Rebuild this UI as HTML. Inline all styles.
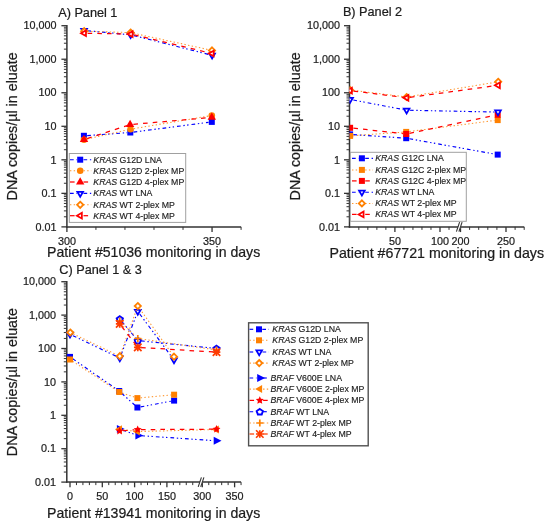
<!DOCTYPE html>
<html><head><meta charset="utf-8"><style>
html,body{margin:0;padding:0;background:#fff;}
svg{display:block;}
</style></head><body>
<svg width="550" height="526" viewBox="0 0 550 526">
<rect width="550" height="526" fill="#fff"/>
<g font-family="Liberation Sans, Arial, sans-serif">
<text x="58.20" y="16.50" font-size="12.7" text-anchor="start" fill="#1c1c1c" stroke="#1c1c1c" stroke-width="0.22">A) Panel 1</text>
<text x="0" y="0" font-size="14.3" text-anchor="middle" fill="#1c1c1c" stroke="#1c1c1c" stroke-width="0.22" transform="translate(17.3,126.4) rotate(-90)">DNA copies/µl in eluate</text>
<line x1="66.9" y1="24.95" x2="66.9" y2="227.63" stroke="#333333" stroke-width="1.5"/>
<line x1="61.400000000000006" y1="25.70" x2="66.9" y2="25.70" stroke="#333333" stroke-width="1.3"/>
<text x="56.50" y="29.40" font-size="10.8" text-anchor="end" fill="#1c1c1c" stroke="#1c1c1c" stroke-width="0.22">10,000</text>
<line x1="63.900000000000006" y1="49.14" x2="66.9" y2="49.14" stroke="#333333" stroke-width="1"/>
<line x1="63.900000000000006" y1="43.23" x2="66.9" y2="43.23" stroke="#333333" stroke-width="1"/>
<line x1="63.900000000000006" y1="39.04" x2="66.9" y2="39.04" stroke="#333333" stroke-width="1"/>
<line x1="63.900000000000006" y1="35.79" x2="66.9" y2="35.79" stroke="#333333" stroke-width="1"/>
<line x1="63.900000000000006" y1="33.14" x2="66.9" y2="33.14" stroke="#333333" stroke-width="1"/>
<line x1="63.900000000000006" y1="30.89" x2="66.9" y2="30.89" stroke="#333333" stroke-width="1"/>
<line x1="63.900000000000006" y1="28.95" x2="66.9" y2="28.95" stroke="#333333" stroke-width="1"/>
<line x1="63.900000000000006" y1="27.23" x2="66.9" y2="27.23" stroke="#333333" stroke-width="1"/>
<line x1="61.400000000000006" y1="59.23" x2="66.9" y2="59.23" stroke="#333333" stroke-width="1.3"/>
<text x="56.50" y="62.93" font-size="10.8" text-anchor="end" fill="#1c1c1c" stroke="#1c1c1c" stroke-width="0.22">1,000</text>
<line x1="63.900000000000006" y1="82.67" x2="66.9" y2="82.67" stroke="#333333" stroke-width="1"/>
<line x1="63.900000000000006" y1="76.76" x2="66.9" y2="76.76" stroke="#333333" stroke-width="1"/>
<line x1="63.900000000000006" y1="72.57" x2="66.9" y2="72.57" stroke="#333333" stroke-width="1"/>
<line x1="63.900000000000006" y1="69.32" x2="66.9" y2="69.32" stroke="#333333" stroke-width="1"/>
<line x1="63.900000000000006" y1="66.67" x2="66.9" y2="66.67" stroke="#333333" stroke-width="1"/>
<line x1="63.900000000000006" y1="64.42" x2="66.9" y2="64.42" stroke="#333333" stroke-width="1"/>
<line x1="63.900000000000006" y1="62.48" x2="66.9" y2="62.48" stroke="#333333" stroke-width="1"/>
<line x1="63.900000000000006" y1="60.76" x2="66.9" y2="60.76" stroke="#333333" stroke-width="1"/>
<line x1="61.400000000000006" y1="92.76" x2="66.9" y2="92.76" stroke="#333333" stroke-width="1.3"/>
<text x="56.50" y="96.46" font-size="10.8" text-anchor="end" fill="#1c1c1c" stroke="#1c1c1c" stroke-width="0.22">100</text>
<line x1="63.900000000000006" y1="116.20" x2="66.9" y2="116.20" stroke="#333333" stroke-width="1"/>
<line x1="63.900000000000006" y1="110.29" x2="66.9" y2="110.29" stroke="#333333" stroke-width="1"/>
<line x1="63.900000000000006" y1="106.10" x2="66.9" y2="106.10" stroke="#333333" stroke-width="1"/>
<line x1="63.900000000000006" y1="102.85" x2="66.9" y2="102.85" stroke="#333333" stroke-width="1"/>
<line x1="63.900000000000006" y1="100.20" x2="66.9" y2="100.20" stroke="#333333" stroke-width="1"/>
<line x1="63.900000000000006" y1="97.95" x2="66.9" y2="97.95" stroke="#333333" stroke-width="1"/>
<line x1="63.900000000000006" y1="96.01" x2="66.9" y2="96.01" stroke="#333333" stroke-width="1"/>
<line x1="63.900000000000006" y1="94.29" x2="66.9" y2="94.29" stroke="#333333" stroke-width="1"/>
<line x1="61.400000000000006" y1="126.29" x2="66.9" y2="126.29" stroke="#333333" stroke-width="1.3"/>
<text x="56.50" y="129.99" font-size="10.8" text-anchor="end" fill="#1c1c1c" stroke="#1c1c1c" stroke-width="0.22">10</text>
<line x1="63.900000000000006" y1="149.73" x2="66.9" y2="149.73" stroke="#333333" stroke-width="1"/>
<line x1="63.900000000000006" y1="143.82" x2="66.9" y2="143.82" stroke="#333333" stroke-width="1"/>
<line x1="63.900000000000006" y1="139.63" x2="66.9" y2="139.63" stroke="#333333" stroke-width="1"/>
<line x1="63.900000000000006" y1="136.38" x2="66.9" y2="136.38" stroke="#333333" stroke-width="1"/>
<line x1="63.900000000000006" y1="133.73" x2="66.9" y2="133.73" stroke="#333333" stroke-width="1"/>
<line x1="63.900000000000006" y1="131.48" x2="66.9" y2="131.48" stroke="#333333" stroke-width="1"/>
<line x1="63.900000000000006" y1="129.54" x2="66.9" y2="129.54" stroke="#333333" stroke-width="1"/>
<line x1="63.900000000000006" y1="127.82" x2="66.9" y2="127.82" stroke="#333333" stroke-width="1"/>
<line x1="61.400000000000006" y1="159.82" x2="66.9" y2="159.82" stroke="#333333" stroke-width="1.3"/>
<text x="56.50" y="163.52" font-size="10.8" text-anchor="end" fill="#1c1c1c" stroke="#1c1c1c" stroke-width="0.22">1</text>
<line x1="63.900000000000006" y1="183.26" x2="66.9" y2="183.26" stroke="#333333" stroke-width="1"/>
<line x1="63.900000000000006" y1="177.35" x2="66.9" y2="177.35" stroke="#333333" stroke-width="1"/>
<line x1="63.900000000000006" y1="173.16" x2="66.9" y2="173.16" stroke="#333333" stroke-width="1"/>
<line x1="63.900000000000006" y1="169.91" x2="66.9" y2="169.91" stroke="#333333" stroke-width="1"/>
<line x1="63.900000000000006" y1="167.26" x2="66.9" y2="167.26" stroke="#333333" stroke-width="1"/>
<line x1="63.900000000000006" y1="165.01" x2="66.9" y2="165.01" stroke="#333333" stroke-width="1"/>
<line x1="63.900000000000006" y1="163.07" x2="66.9" y2="163.07" stroke="#333333" stroke-width="1"/>
<line x1="63.900000000000006" y1="161.35" x2="66.9" y2="161.35" stroke="#333333" stroke-width="1"/>
<line x1="61.400000000000006" y1="193.35" x2="66.9" y2="193.35" stroke="#333333" stroke-width="1.3"/>
<text x="56.50" y="197.05" font-size="10.8" text-anchor="end" fill="#1c1c1c" stroke="#1c1c1c" stroke-width="0.22">0.1</text>
<line x1="63.900000000000006" y1="216.79" x2="66.9" y2="216.79" stroke="#333333" stroke-width="1"/>
<line x1="63.900000000000006" y1="210.88" x2="66.9" y2="210.88" stroke="#333333" stroke-width="1"/>
<line x1="63.900000000000006" y1="206.69" x2="66.9" y2="206.69" stroke="#333333" stroke-width="1"/>
<line x1="63.900000000000006" y1="203.44" x2="66.9" y2="203.44" stroke="#333333" stroke-width="1"/>
<line x1="63.900000000000006" y1="200.79" x2="66.9" y2="200.79" stroke="#333333" stroke-width="1"/>
<line x1="63.900000000000006" y1="198.54" x2="66.9" y2="198.54" stroke="#333333" stroke-width="1"/>
<line x1="63.900000000000006" y1="196.60" x2="66.9" y2="196.60" stroke="#333333" stroke-width="1"/>
<line x1="63.900000000000006" y1="194.88" x2="66.9" y2="194.88" stroke="#333333" stroke-width="1"/>
<line x1="61.400000000000006" y1="226.88" x2="66.9" y2="226.88" stroke="#333333" stroke-width="1.3"/>
<text x="56.50" y="230.58" font-size="10.8" text-anchor="end" fill="#1c1c1c" stroke="#1c1c1c" stroke-width="0.22">0.01</text>
<line x1="66.15" y1="226.88" x2="241.08" y2="226.88" stroke="#333333" stroke-width="1.5"/>
<line x1="66.90" y1="226.88" x2="66.90" y2="232.07999999999998" stroke="#333333" stroke-width="1.3"/>
<line x1="212.05" y1="226.88" x2="212.05" y2="232.07999999999998" stroke="#333333" stroke-width="1.3"/>
<line x1="95.93" y1="226.88" x2="95.93" y2="229.88" stroke="#333333" stroke-width="1"/>
<line x1="124.96" y1="226.88" x2="124.96" y2="229.88" stroke="#333333" stroke-width="1"/>
<line x1="153.99" y1="226.88" x2="153.99" y2="229.88" stroke="#333333" stroke-width="1"/>
<line x1="183.02" y1="226.88" x2="183.02" y2="229.88" stroke="#333333" stroke-width="1"/>
<line x1="241.08" y1="226.88" x2="241.08" y2="229.88" stroke="#333333" stroke-width="1"/>
<text x="66.90" y="245.00" font-size="10.8" text-anchor="middle" fill="#1c1c1c" stroke="#1c1c1c" stroke-width="0.22">300</text>
<text x="212.05" y="245.00" font-size="10.8" text-anchor="middle" fill="#1c1c1c" stroke="#1c1c1c" stroke-width="0.22">350</text>
<text x="47.10" y="257.40" font-size="14.1" text-anchor="start" fill="#1c1c1c" stroke="#1c1c1c" stroke-width="0.22">Patient #51036 monitoring in days</text>
<path d="M87.19,135.57 L127.01,132.73" fill="none" stroke="#0000ff" stroke-width="1.15" stroke-dasharray="3.7,2.7,1.4,2.4,1.4,3.0"/>
<path d="M133.57,132.07 L208.53,122.33" fill="none" stroke="#0000ff" stroke-width="1.15" stroke-dasharray="3.7,2.7,1.4,2.4,1.4,3.0"/>
<rect x="80.90" y="132.80" width="6.00" height="6.00" fill="#0000ff"/>
<rect x="127.30" y="129.50" width="6.00" height="6.00" fill="#0000ff"/>
<rect x="208.80" y="118.90" width="6.00" height="6.00" fill="#0000ff"/>
<path d="M87.22,138.97 L127.28,129.93" fill="none" stroke="#ff962e" stroke-width="1.05" stroke-dasharray="1.4,2.3"/>
<path d="M133.75,128.65 L208.55,116.05" fill="none" stroke="#ff962e" stroke-width="1.05" stroke-dasharray="1.4,2.3"/>
<circle cx="84.00" cy="139.70" r="3.30" fill="#ff8000"/>
<circle cx="130.50" cy="129.20" r="3.30" fill="#ff8000"/>
<circle cx="211.80" cy="115.50" r="3.30" fill="#ff8000"/>
<path d="M87.14,138.58 L126.96,125.62" fill="none" stroke="#ff0000" stroke-width="1.25" stroke-dasharray="4.6,5.1"/>
<path d="M133.39,124.31 L208.51,117.69" fill="none" stroke="#ff0000" stroke-width="1.25" stroke-dasharray="4.6,5.1"/>
<polygon points="84.00,134.80 88.20,142.00 79.80,142.00" fill="#ff0000"/>
<polygon points="130.10,119.80 134.30,127.00 125.90,127.00" fill="#ff0000"/>
<polygon points="211.80,112.60 216.00,119.80 207.60,119.80" fill="#ff0000"/>
<path d="M87.39,30.71 L127.31,34.49" fill="none" stroke="#0000ff" stroke-width="1.15" stroke-dasharray="3.7,2.7,1.4,2.4,1.4,3.0"/>
<path d="M133.80,35.60 L208.90,54.50" fill="none" stroke="#0000ff" stroke-width="1.15" stroke-dasharray="3.7,2.7,1.4,2.4,1.4,3.0"/>
<polygon points="81.25,28.77 86.95,28.77 84.10,33.67" fill="#fff" stroke="#0000ff" stroke-width="1.75" stroke-linejoin="miter"/>
<polygon points="127.75,33.17 133.45,33.17 130.60,38.07" fill="#fff" stroke="#0000ff" stroke-width="1.75" stroke-linejoin="miter"/>
<polygon points="209.25,53.67 214.95,53.67 212.10,58.57" fill="#fff" stroke="#0000ff" stroke-width="1.75" stroke-linejoin="miter"/>
<path d="M87.50,31.30 L127.30,32.50" fill="none" stroke="#ff962e" stroke-width="1.05" stroke-dasharray="1.4,2.3"/>
<path d="M133.82,33.30 L208.78,49.70" fill="none" stroke="#ff962e" stroke-width="1.05" stroke-dasharray="1.4,2.3"/>
<polygon points="84.20,28.10 87.30,31.20 84.20,34.30 81.10,31.20" fill="#fff" stroke="#ff8000" stroke-width="1.8" stroke-linejoin="miter"/>
<polygon points="130.60,29.50 133.70,32.60 130.60,35.70 127.50,32.60" fill="#fff" stroke="#ff8000" stroke-width="1.8" stroke-linejoin="miter"/>
<polygon points="212.00,47.30 215.10,50.40 212.00,53.50 208.90,50.40" fill="#fff" stroke="#ff8000" stroke-width="1.8" stroke-linejoin="miter"/>
<path d="M87.60,33.26 L127.60,34.04" fill="none" stroke="#ff0000" stroke-width="1.25" stroke-dasharray="4.6,5.1"/>
<path d="M134.11,34.87 L208.79,52.73" fill="none" stroke="#ff0000" stroke-width="1.25" stroke-dasharray="4.6,5.1"/>
<polygon points="80.97,33.20 85.97,30.35 85.97,36.05" fill="#fff" stroke="#ff0000" stroke-width="1.75" stroke-linejoin="miter"/>
<polygon points="127.57,34.10 132.57,31.25 132.57,36.95" fill="#fff" stroke="#ff0000" stroke-width="1.75" stroke-linejoin="miter"/>
<polygon points="208.67,53.50 213.67,50.65 213.67,56.35" fill="#fff" stroke="#ff0000" stroke-width="1.75" stroke-linejoin="miter"/>
<rect x="69.3" y="153.5" width="116.39999999999999" height="68.9" fill="#fff" stroke="#a0a0a0" stroke-width="1"/>
<path d="M70.00,159.70 L76.90,159.70" fill="none" stroke="#0000ff" stroke-width="1.15" stroke-dasharray="3.7,2.7,1.4,2.4,1.4,3.0"/>
<path d="M83.50,159.70 L91.20,159.70" fill="none" stroke="#0000ff" stroke-width="1.15" stroke-dasharray="3.7,2.7,1.4,2.4,1.4,3.0"/>
<rect x="77.20" y="156.70" width="6.00" height="6.00" fill="#0000ff"/>
<text x="93.30" y="162.70" font-size="8.75" fill="#1c1c1c" stroke="#1c1c1c" stroke-width="0.15"><tspan font-style="italic">KRAS</tspan> G12D LNA</text>
<path d="M70.00,170.80 L76.90,170.80" fill="none" stroke="#ff962e" stroke-width="1.05" stroke-dasharray="1.4,2.3"/>
<path d="M83.50,170.80 L91.20,170.80" fill="none" stroke="#ff962e" stroke-width="1.05" stroke-dasharray="1.4,2.3"/>
<circle cx="80.20" cy="170.80" r="3.30" fill="#ff8000"/>
<text x="93.30" y="173.80" font-size="8.75" fill="#1c1c1c" stroke="#1c1c1c" stroke-width="0.15"><tspan font-style="italic">KRAS</tspan> G12D 2-plex MP</text>
<path d="M70.00,182.00 L76.90,182.00" fill="none" stroke="#ff0000" stroke-width="1.25" stroke-dasharray="4.6,5.1"/>
<path d="M83.50,182.00 L91.20,182.00" fill="none" stroke="#ff0000" stroke-width="1.25" stroke-dasharray="4.6,5.1"/>
<polygon points="80.20,177.20 84.40,184.40 76.00,184.40" fill="#ff0000"/>
<text x="93.30" y="185.00" font-size="8.75" fill="#1c1c1c" stroke="#1c1c1c" stroke-width="0.15"><tspan font-style="italic">KRAS</tspan> G12D 4-plex MP</text>
<path d="M70.00,193.40 L76.90,193.40" fill="none" stroke="#0000ff" stroke-width="1.15" stroke-dasharray="3.7,2.7,1.4,2.4,1.4,3.0"/>
<path d="M83.50,193.40 L91.20,193.40" fill="none" stroke="#0000ff" stroke-width="1.15" stroke-dasharray="3.7,2.7,1.4,2.4,1.4,3.0"/>
<polygon points="77.35,191.77 83.05,191.77 80.20,196.67" fill="#fff" stroke="#0000ff" stroke-width="1.75" stroke-linejoin="miter"/>
<text x="93.30" y="196.40" font-size="8.75" fill="#1c1c1c" stroke="#1c1c1c" stroke-width="0.15"><tspan font-style="italic">KRAS</tspan> WT LNA</text>
<path d="M70.00,204.80 L76.90,204.80" fill="none" stroke="#ff962e" stroke-width="1.05" stroke-dasharray="1.4,2.3"/>
<path d="M83.50,204.80 L91.20,204.80" fill="none" stroke="#ff962e" stroke-width="1.05" stroke-dasharray="1.4,2.3"/>
<polygon points="80.20,201.70 83.30,204.80 80.20,207.90 77.10,204.80" fill="#fff" stroke="#ff8000" stroke-width="1.8" stroke-linejoin="miter"/>
<text x="93.30" y="207.80" font-size="8.75" fill="#1c1c1c" stroke="#1c1c1c" stroke-width="0.15"><tspan font-style="italic">KRAS</tspan> WT 2-plex MP</text>
<path d="M70.00,215.70 L76.90,215.70" fill="none" stroke="#ff0000" stroke-width="1.25" stroke-dasharray="4.6,5.1"/>
<path d="M83.50,215.70 L91.20,215.70" fill="none" stroke="#ff0000" stroke-width="1.25" stroke-dasharray="4.6,5.1"/>
<polygon points="76.87,215.70 81.87,212.85 81.87,218.55" fill="#fff" stroke="#ff0000" stroke-width="1.75" stroke-linejoin="miter"/>
<text x="93.30" y="218.70" font-size="8.75" fill="#1c1c1c" stroke="#1c1c1c" stroke-width="0.15"><tspan font-style="italic">KRAS</tspan> WT 4-plex MP</text>
</g>
<g font-family="Liberation Sans, Arial, sans-serif">
<text x="342.90" y="15.80" font-size="12.7" text-anchor="start" fill="#1c1c1c" stroke="#1c1c1c" stroke-width="0.22">B) Panel 2</text>
<text x="0" y="0" font-size="14.3" text-anchor="middle" fill="#1c1c1c" stroke="#1c1c1c" stroke-width="0.22" transform="translate(299.9,126.4) rotate(-90)">DNA copies/µl in eluate</text>
<line x1="349.5" y1="24.95" x2="349.5" y2="227.63" stroke="#333333" stroke-width="1.5"/>
<line x1="344.0" y1="25.70" x2="349.5" y2="25.70" stroke="#333333" stroke-width="1.3"/>
<text x="340.00" y="29.40" font-size="10.8" text-anchor="end" fill="#1c1c1c" stroke="#1c1c1c" stroke-width="0.22">10,000</text>
<line x1="346.5" y1="49.14" x2="349.5" y2="49.14" stroke="#333333" stroke-width="1"/>
<line x1="346.5" y1="43.23" x2="349.5" y2="43.23" stroke="#333333" stroke-width="1"/>
<line x1="346.5" y1="39.04" x2="349.5" y2="39.04" stroke="#333333" stroke-width="1"/>
<line x1="346.5" y1="35.79" x2="349.5" y2="35.79" stroke="#333333" stroke-width="1"/>
<line x1="346.5" y1="33.14" x2="349.5" y2="33.14" stroke="#333333" stroke-width="1"/>
<line x1="346.5" y1="30.89" x2="349.5" y2="30.89" stroke="#333333" stroke-width="1"/>
<line x1="346.5" y1="28.95" x2="349.5" y2="28.95" stroke="#333333" stroke-width="1"/>
<line x1="346.5" y1="27.23" x2="349.5" y2="27.23" stroke="#333333" stroke-width="1"/>
<line x1="344.0" y1="59.23" x2="349.5" y2="59.23" stroke="#333333" stroke-width="1.3"/>
<text x="340.00" y="62.93" font-size="10.8" text-anchor="end" fill="#1c1c1c" stroke="#1c1c1c" stroke-width="0.22">1,000</text>
<line x1="346.5" y1="82.67" x2="349.5" y2="82.67" stroke="#333333" stroke-width="1"/>
<line x1="346.5" y1="76.76" x2="349.5" y2="76.76" stroke="#333333" stroke-width="1"/>
<line x1="346.5" y1="72.57" x2="349.5" y2="72.57" stroke="#333333" stroke-width="1"/>
<line x1="346.5" y1="69.32" x2="349.5" y2="69.32" stroke="#333333" stroke-width="1"/>
<line x1="346.5" y1="66.67" x2="349.5" y2="66.67" stroke="#333333" stroke-width="1"/>
<line x1="346.5" y1="64.42" x2="349.5" y2="64.42" stroke="#333333" stroke-width="1"/>
<line x1="346.5" y1="62.48" x2="349.5" y2="62.48" stroke="#333333" stroke-width="1"/>
<line x1="346.5" y1="60.76" x2="349.5" y2="60.76" stroke="#333333" stroke-width="1"/>
<line x1="344.0" y1="92.76" x2="349.5" y2="92.76" stroke="#333333" stroke-width="1.3"/>
<text x="340.00" y="96.46" font-size="10.8" text-anchor="end" fill="#1c1c1c" stroke="#1c1c1c" stroke-width="0.22">100</text>
<line x1="346.5" y1="116.20" x2="349.5" y2="116.20" stroke="#333333" stroke-width="1"/>
<line x1="346.5" y1="110.29" x2="349.5" y2="110.29" stroke="#333333" stroke-width="1"/>
<line x1="346.5" y1="106.10" x2="349.5" y2="106.10" stroke="#333333" stroke-width="1"/>
<line x1="346.5" y1="102.85" x2="349.5" y2="102.85" stroke="#333333" stroke-width="1"/>
<line x1="346.5" y1="100.20" x2="349.5" y2="100.20" stroke="#333333" stroke-width="1"/>
<line x1="346.5" y1="97.95" x2="349.5" y2="97.95" stroke="#333333" stroke-width="1"/>
<line x1="346.5" y1="96.01" x2="349.5" y2="96.01" stroke="#333333" stroke-width="1"/>
<line x1="346.5" y1="94.29" x2="349.5" y2="94.29" stroke="#333333" stroke-width="1"/>
<line x1="344.0" y1="126.29" x2="349.5" y2="126.29" stroke="#333333" stroke-width="1.3"/>
<text x="340.00" y="129.99" font-size="10.8" text-anchor="end" fill="#1c1c1c" stroke="#1c1c1c" stroke-width="0.22">10</text>
<line x1="346.5" y1="149.73" x2="349.5" y2="149.73" stroke="#333333" stroke-width="1"/>
<line x1="346.5" y1="143.82" x2="349.5" y2="143.82" stroke="#333333" stroke-width="1"/>
<line x1="346.5" y1="139.63" x2="349.5" y2="139.63" stroke="#333333" stroke-width="1"/>
<line x1="346.5" y1="136.38" x2="349.5" y2="136.38" stroke="#333333" stroke-width="1"/>
<line x1="346.5" y1="133.73" x2="349.5" y2="133.73" stroke="#333333" stroke-width="1"/>
<line x1="346.5" y1="131.48" x2="349.5" y2="131.48" stroke="#333333" stroke-width="1"/>
<line x1="346.5" y1="129.54" x2="349.5" y2="129.54" stroke="#333333" stroke-width="1"/>
<line x1="346.5" y1="127.82" x2="349.5" y2="127.82" stroke="#333333" stroke-width="1"/>
<line x1="344.0" y1="159.82" x2="349.5" y2="159.82" stroke="#333333" stroke-width="1.3"/>
<text x="340.00" y="163.52" font-size="10.8" text-anchor="end" fill="#1c1c1c" stroke="#1c1c1c" stroke-width="0.22">1</text>
<line x1="346.5" y1="183.26" x2="349.5" y2="183.26" stroke="#333333" stroke-width="1"/>
<line x1="346.5" y1="177.35" x2="349.5" y2="177.35" stroke="#333333" stroke-width="1"/>
<line x1="346.5" y1="173.16" x2="349.5" y2="173.16" stroke="#333333" stroke-width="1"/>
<line x1="346.5" y1="169.91" x2="349.5" y2="169.91" stroke="#333333" stroke-width="1"/>
<line x1="346.5" y1="167.26" x2="349.5" y2="167.26" stroke="#333333" stroke-width="1"/>
<line x1="346.5" y1="165.01" x2="349.5" y2="165.01" stroke="#333333" stroke-width="1"/>
<line x1="346.5" y1="163.07" x2="349.5" y2="163.07" stroke="#333333" stroke-width="1"/>
<line x1="346.5" y1="161.35" x2="349.5" y2="161.35" stroke="#333333" stroke-width="1"/>
<line x1="344.0" y1="193.35" x2="349.5" y2="193.35" stroke="#333333" stroke-width="1.3"/>
<text x="340.00" y="197.05" font-size="10.8" text-anchor="end" fill="#1c1c1c" stroke="#1c1c1c" stroke-width="0.22">0.1</text>
<line x1="346.5" y1="216.79" x2="349.5" y2="216.79" stroke="#333333" stroke-width="1"/>
<line x1="346.5" y1="210.88" x2="349.5" y2="210.88" stroke="#333333" stroke-width="1"/>
<line x1="346.5" y1="206.69" x2="349.5" y2="206.69" stroke="#333333" stroke-width="1"/>
<line x1="346.5" y1="203.44" x2="349.5" y2="203.44" stroke="#333333" stroke-width="1"/>
<line x1="346.5" y1="200.79" x2="349.5" y2="200.79" stroke="#333333" stroke-width="1"/>
<line x1="346.5" y1="198.54" x2="349.5" y2="198.54" stroke="#333333" stroke-width="1"/>
<line x1="346.5" y1="196.60" x2="349.5" y2="196.60" stroke="#333333" stroke-width="1"/>
<line x1="346.5" y1="194.88" x2="349.5" y2="194.88" stroke="#333333" stroke-width="1"/>
<line x1="344.0" y1="226.88" x2="349.5" y2="226.88" stroke="#333333" stroke-width="1.3"/>
<text x="340.00" y="230.58" font-size="10.8" text-anchor="end" fill="#1c1c1c" stroke="#1c1c1c" stroke-width="0.22">0.01</text>
<line x1="348.75" y1="226.88" x2="524.2" y2="226.88" stroke="#333333" stroke-width="1.5"/>
<line x1="394.90" y1="226.88" x2="394.90" y2="232.07999999999998" stroke="#333333" stroke-width="1.3"/>
<line x1="440.00" y1="226.88" x2="440.00" y2="232.07999999999998" stroke="#333333" stroke-width="1.3"/>
<line x1="460.50" y1="226.88" x2="460.50" y2="232.07999999999998" stroke="#333333" stroke-width="1.3"/>
<line x1="506.00" y1="226.88" x2="506.00" y2="232.07999999999998" stroke="#333333" stroke-width="1.3"/>
<line x1="358.82" y1="226.88" x2="358.82" y2="229.88" stroke="#333333" stroke-width="1"/>
<line x1="367.84" y1="226.88" x2="367.84" y2="229.88" stroke="#333333" stroke-width="1"/>
<line x1="376.86" y1="226.88" x2="376.86" y2="229.88" stroke="#333333" stroke-width="1"/>
<line x1="385.88" y1="226.88" x2="385.88" y2="229.88" stroke="#333333" stroke-width="1"/>
<line x1="403.92" y1="226.88" x2="403.92" y2="229.88" stroke="#333333" stroke-width="1"/>
<line x1="412.94" y1="226.88" x2="412.94" y2="229.88" stroke="#333333" stroke-width="1"/>
<line x1="421.96" y1="226.88" x2="421.96" y2="229.88" stroke="#333333" stroke-width="1"/>
<line x1="430.98" y1="226.88" x2="430.98" y2="229.88" stroke="#333333" stroke-width="1"/>
<line x1="449.02" y1="226.88" x2="449.02" y2="229.88" stroke="#333333" stroke-width="1"/>
<line x1="469.60" y1="226.88" x2="469.60" y2="229.88" stroke="#333333" stroke-width="1"/>
<line x1="478.70" y1="226.88" x2="478.70" y2="229.88" stroke="#333333" stroke-width="1"/>
<line x1="487.80" y1="226.88" x2="487.80" y2="229.88" stroke="#333333" stroke-width="1"/>
<line x1="496.90" y1="226.88" x2="496.90" y2="229.88" stroke="#333333" stroke-width="1"/>
<line x1="515.10" y1="226.88" x2="515.10" y2="229.88" stroke="#333333" stroke-width="1"/>
<line x1="524.20" y1="226.88" x2="524.20" y2="229.88" stroke="#333333" stroke-width="1"/>
<polygon points="456.7,231.38 459.7,222.38 462.2,222.38 459.2,231.38" fill="#fff"/><line x1="456.4" y1="231.68" x2="459.59999999999997" y2="222.07999999999998" stroke="#333333" stroke-width="1.1"/><line x1="458.9" y1="231.68" x2="462.09999999999997" y2="222.07999999999998" stroke="#333333" stroke-width="1.1"/>
<text x="394.90" y="245.00" font-size="10.8" text-anchor="middle" fill="#1c1c1c" stroke="#1c1c1c" stroke-width="0.22">50</text>
<text x="440.00" y="245.00" font-size="10.8" text-anchor="middle" fill="#1c1c1c" stroke="#1c1c1c" stroke-width="0.22">100</text>
<text x="460.50" y="245.00" font-size="10.8" text-anchor="middle" fill="#1c1c1c" stroke="#1c1c1c" stroke-width="0.22">200</text>
<text x="506.00" y="245.00" font-size="10.8" text-anchor="middle" fill="#1c1c1c" stroke="#1c1c1c" stroke-width="0.22">250</text>
<text x="329.50" y="257.70" font-size="14.2" text-anchor="start" fill="#1c1c1c" stroke="#1c1c1c" stroke-width="0.22">Patient #67721 monitoring in days</text>
<clipPath id="cb"><rect x="349.5" y="0" width="200" height="226.88"/></clipPath>
<g clip-path="url(#cb)">
<path d="M353.39,134.62 L402.91,137.98" fill="none" stroke="#0000ff" stroke-width="1.15" stroke-dasharray="3.7,2.7,1.4,2.4,1.4,3.0"/>
<path d="M409.45,138.78 L494.45,154.02" fill="none" stroke="#0000ff" stroke-width="1.15" stroke-dasharray="3.7,2.7,1.4,2.4,1.4,3.0"/>
<rect x="347.10" y="131.40" width="6.00" height="6.00" fill="#0000ff"/>
<rect x="403.20" y="135.20" width="6.00" height="6.00" fill="#0000ff"/>
<rect x="494.70" y="151.60" width="6.00" height="6.00" fill="#0000ff"/>
<path d="M353.39,135.67 L402.91,132.13" fill="none" stroke="#ff962e" stroke-width="1.05" stroke-dasharray="1.4,2.3"/>
<path d="M409.47,131.48 L494.43,120.52" fill="none" stroke="#ff962e" stroke-width="1.05" stroke-dasharray="1.4,2.3"/>
<rect x="347.10" y="132.90" width="6.00" height="6.00" fill="#ff8000"/>
<rect x="403.20" y="128.90" width="6.00" height="6.00" fill="#ff8000"/>
<rect x="494.70" y="117.10" width="6.00" height="6.00" fill="#ff8000"/>
<path d="M353.38,128.16 L402.92,133.64" fill="none" stroke="#ff0000" stroke-width="1.25" stroke-dasharray="4.6,5.1"/>
<path d="M409.43,133.32 L494.47,115.48" fill="none" stroke="#ff0000" stroke-width="1.25" stroke-dasharray="4.6,5.1"/>
<rect x="347.10" y="124.80" width="6.00" height="6.00" fill="#ff0000"/>
<rect x="403.20" y="131.00" width="6.00" height="6.00" fill="#ff0000"/>
<rect x="494.70" y="111.80" width="6.00" height="6.00" fill="#ff0000"/>
<path d="M353.34,100.02 L403.36,109.58" fill="none" stroke="#0000ff" stroke-width="1.15" stroke-dasharray="3.7,2.7,1.4,2.4,1.4,3.0"/>
<path d="M409.90,110.27 L494.70,112.03" fill="none" stroke="#0000ff" stroke-width="1.15" stroke-dasharray="3.7,2.7,1.4,2.4,1.4,3.0"/>
<polygon points="347.25,97.77 352.95,97.77 350.10,102.67" fill="#fff" stroke="#0000ff" stroke-width="1.75" stroke-linejoin="miter"/>
<polygon points="403.75,108.57 409.45,108.57 406.60,113.47" fill="#fff" stroke="#0000ff" stroke-width="1.75" stroke-linejoin="miter"/>
<polygon points="495.15,110.47 500.85,110.47 498.00,115.37" fill="#fff" stroke="#0000ff" stroke-width="1.75" stroke-linejoin="miter"/>
<path d="M353.37,90.41 L403.33,96.59" fill="none" stroke="#ff962e" stroke-width="1.05" stroke-dasharray="1.4,2.3"/>
<path d="M409.86,96.46 L494.94,82.34" fill="none" stroke="#ff962e" stroke-width="1.05" stroke-dasharray="1.4,2.3"/>
<polygon points="350.10,86.90 353.20,90.00 350.10,93.10 347.00,90.00" fill="#fff" stroke="#ff8000" stroke-width="1.8" stroke-linejoin="miter"/>
<polygon points="406.60,93.90 409.70,97.00 406.60,100.10 403.50,97.00" fill="#fff" stroke="#ff8000" stroke-width="1.8" stroke-linejoin="miter"/>
<polygon points="498.20,78.70 501.30,81.80 498.20,84.90 495.10,81.80" fill="#fff" stroke="#ff8000" stroke-width="1.8" stroke-linejoin="miter"/>
<path d="M353.47,91.02 L403.43,97.38" fill="none" stroke="#ff0000" stroke-width="1.25" stroke-dasharray="4.6,5.1"/>
<path d="M409.97,97.35 L494.93,85.75" fill="none" stroke="#ff0000" stroke-width="1.25" stroke-dasharray="4.6,5.1"/>
<polygon points="346.87,90.60 351.87,87.75 351.87,93.45" fill="#fff" stroke="#ff0000" stroke-width="1.75" stroke-linejoin="miter"/>
<polygon points="403.37,97.80 408.37,94.95 408.37,100.65" fill="#fff" stroke="#ff0000" stroke-width="1.75" stroke-linejoin="miter"/>
<polygon points="494.87,85.30 499.87,82.45 499.87,88.15" fill="#fff" stroke="#ff0000" stroke-width="1.75" stroke-linejoin="miter"/>
</g>
<rect x="350.3" y="152.3" width="116.0" height="69.0" fill="#fff" stroke="#a0a0a0" stroke-width="1"/>
<path d="M352.00,158.30 L358.60,158.30" fill="none" stroke="#0000ff" stroke-width="1.15" stroke-dasharray="3.7,2.7,1.4,2.4,1.4,3.0"/>
<path d="M365.20,158.30 L373.00,158.30" fill="none" stroke="#0000ff" stroke-width="1.15" stroke-dasharray="3.7,2.7,1.4,2.4,1.4,3.0"/>
<rect x="358.90" y="155.30" width="6.00" height="6.00" fill="#0000ff"/>
<text x="375.20" y="161.30" font-size="8.75" fill="#1c1c1c" stroke="#1c1c1c" stroke-width="0.15"><tspan font-style="italic">KRAS</tspan> G12C LNA</text>
<path d="M352.00,169.90 L358.60,169.90" fill="none" stroke="#ff962e" stroke-width="1.05" stroke-dasharray="1.4,2.3"/>
<path d="M365.20,169.90 L373.00,169.90" fill="none" stroke="#ff962e" stroke-width="1.05" stroke-dasharray="1.4,2.3"/>
<rect x="358.90" y="166.90" width="6.00" height="6.00" fill="#ff8000"/>
<text x="375.20" y="172.90" font-size="8.75" fill="#1c1c1c" stroke="#1c1c1c" stroke-width="0.15"><tspan font-style="italic">KRAS</tspan> G12C 2-plex MP</text>
<path d="M352.00,180.90 L358.60,180.90" fill="none" stroke="#ff0000" stroke-width="1.25" stroke-dasharray="4.6,5.1"/>
<path d="M365.20,180.90 L373.00,180.90" fill="none" stroke="#ff0000" stroke-width="1.25" stroke-dasharray="4.6,5.1"/>
<rect x="358.90" y="177.90" width="6.00" height="6.00" fill="#ff0000"/>
<text x="375.20" y="183.90" font-size="8.75" fill="#1c1c1c" stroke="#1c1c1c" stroke-width="0.15"><tspan font-style="italic">KRAS</tspan> G12C 4-plex MP</text>
<path d="M352.00,192.20 L358.60,192.20" fill="none" stroke="#0000ff" stroke-width="1.15" stroke-dasharray="3.7,2.7,1.4,2.4,1.4,3.0"/>
<path d="M365.20,192.20 L373.00,192.20" fill="none" stroke="#0000ff" stroke-width="1.15" stroke-dasharray="3.7,2.7,1.4,2.4,1.4,3.0"/>
<polygon points="359.05,190.57 364.75,190.57 361.90,195.47" fill="#fff" stroke="#0000ff" stroke-width="1.75" stroke-linejoin="miter"/>
<text x="375.20" y="195.20" font-size="8.75" fill="#1c1c1c" stroke="#1c1c1c" stroke-width="0.15"><tspan font-style="italic">KRAS</tspan> WT LNA</text>
<path d="M352.00,203.40 L358.60,203.40" fill="none" stroke="#ff962e" stroke-width="1.05" stroke-dasharray="1.4,2.3"/>
<path d="M365.20,203.40 L373.00,203.40" fill="none" stroke="#ff962e" stroke-width="1.05" stroke-dasharray="1.4,2.3"/>
<polygon points="361.90,200.30 365.00,203.40 361.90,206.50 358.80,203.40" fill="#fff" stroke="#ff8000" stroke-width="1.8" stroke-linejoin="miter"/>
<text x="375.20" y="206.40" font-size="8.75" fill="#1c1c1c" stroke="#1c1c1c" stroke-width="0.15"><tspan font-style="italic">KRAS</tspan> WT 2-plex MP</text>
<path d="M352.00,214.40 L358.60,214.40" fill="none" stroke="#ff0000" stroke-width="1.25" stroke-dasharray="4.6,5.1"/>
<path d="M365.20,214.40 L373.00,214.40" fill="none" stroke="#ff0000" stroke-width="1.25" stroke-dasharray="4.6,5.1"/>
<polygon points="358.57,214.40 363.57,211.55 363.57,217.25" fill="#fff" stroke="#ff0000" stroke-width="1.75" stroke-linejoin="miter"/>
<text x="375.20" y="217.40" font-size="8.75" fill="#1c1c1c" stroke="#1c1c1c" stroke-width="0.15"><tspan font-style="italic">KRAS</tspan> WT 4-plex MP</text>
</g>
<g font-family="Liberation Sans, Arial, sans-serif">
<text x="59.30" y="274.20" font-size="12.7" text-anchor="start" fill="#1c1c1c" stroke="#1c1c1c" stroke-width="0.22">C) Panel 1 &amp; 3</text>
<text x="0" y="0" font-size="14.3" text-anchor="middle" fill="#1c1c1c" stroke="#1c1c1c" stroke-width="0.22" transform="translate(17.2,382.1) rotate(-90)">DNA copies/µl in eluate</text>
<line x1="66.8" y1="280.95" x2="66.8" y2="482.84999999999997" stroke="#333333" stroke-width="1.5"/>
<line x1="61.3" y1="281.70" x2="66.8" y2="281.70" stroke="#333333" stroke-width="1.3"/>
<text x="56.00" y="285.40" font-size="10.8" text-anchor="end" fill="#1c1c1c" stroke="#1c1c1c" stroke-width="0.22">10,000</text>
<line x1="63.8" y1="305.05" x2="66.8" y2="305.05" stroke="#333333" stroke-width="1"/>
<line x1="63.8" y1="299.16" x2="66.8" y2="299.16" stroke="#333333" stroke-width="1"/>
<line x1="63.8" y1="294.99" x2="66.8" y2="294.99" stroke="#333333" stroke-width="1"/>
<line x1="63.8" y1="291.75" x2="66.8" y2="291.75" stroke="#333333" stroke-width="1"/>
<line x1="63.8" y1="289.11" x2="66.8" y2="289.11" stroke="#333333" stroke-width="1"/>
<line x1="63.8" y1="286.87" x2="66.8" y2="286.87" stroke="#333333" stroke-width="1"/>
<line x1="63.8" y1="284.94" x2="66.8" y2="284.94" stroke="#333333" stroke-width="1"/>
<line x1="63.8" y1="283.23" x2="66.8" y2="283.23" stroke="#333333" stroke-width="1"/>
<line x1="61.3" y1="315.10" x2="66.8" y2="315.10" stroke="#333333" stroke-width="1.3"/>
<text x="56.00" y="318.80" font-size="10.8" text-anchor="end" fill="#1c1c1c" stroke="#1c1c1c" stroke-width="0.22">1,000</text>
<line x1="63.8" y1="338.45" x2="66.8" y2="338.45" stroke="#333333" stroke-width="1"/>
<line x1="63.8" y1="332.56" x2="66.8" y2="332.56" stroke="#333333" stroke-width="1"/>
<line x1="63.8" y1="328.39" x2="66.8" y2="328.39" stroke="#333333" stroke-width="1"/>
<line x1="63.8" y1="325.15" x2="66.8" y2="325.15" stroke="#333333" stroke-width="1"/>
<line x1="63.8" y1="322.51" x2="66.8" y2="322.51" stroke="#333333" stroke-width="1"/>
<line x1="63.8" y1="320.27" x2="66.8" y2="320.27" stroke="#333333" stroke-width="1"/>
<line x1="63.8" y1="318.34" x2="66.8" y2="318.34" stroke="#333333" stroke-width="1"/>
<line x1="63.8" y1="316.63" x2="66.8" y2="316.63" stroke="#333333" stroke-width="1"/>
<line x1="61.3" y1="348.50" x2="66.8" y2="348.50" stroke="#333333" stroke-width="1.3"/>
<text x="56.00" y="352.20" font-size="10.8" text-anchor="end" fill="#1c1c1c" stroke="#1c1c1c" stroke-width="0.22">100</text>
<line x1="63.8" y1="371.85" x2="66.8" y2="371.85" stroke="#333333" stroke-width="1"/>
<line x1="63.8" y1="365.96" x2="66.8" y2="365.96" stroke="#333333" stroke-width="1"/>
<line x1="63.8" y1="361.79" x2="66.8" y2="361.79" stroke="#333333" stroke-width="1"/>
<line x1="63.8" y1="358.55" x2="66.8" y2="358.55" stroke="#333333" stroke-width="1"/>
<line x1="63.8" y1="355.91" x2="66.8" y2="355.91" stroke="#333333" stroke-width="1"/>
<line x1="63.8" y1="353.67" x2="66.8" y2="353.67" stroke="#333333" stroke-width="1"/>
<line x1="63.8" y1="351.74" x2="66.8" y2="351.74" stroke="#333333" stroke-width="1"/>
<line x1="63.8" y1="350.03" x2="66.8" y2="350.03" stroke="#333333" stroke-width="1"/>
<line x1="61.3" y1="381.90" x2="66.8" y2="381.90" stroke="#333333" stroke-width="1.3"/>
<text x="56.00" y="385.60" font-size="10.8" text-anchor="end" fill="#1c1c1c" stroke="#1c1c1c" stroke-width="0.22">10</text>
<line x1="63.8" y1="405.25" x2="66.8" y2="405.25" stroke="#333333" stroke-width="1"/>
<line x1="63.8" y1="399.36" x2="66.8" y2="399.36" stroke="#333333" stroke-width="1"/>
<line x1="63.8" y1="395.19" x2="66.8" y2="395.19" stroke="#333333" stroke-width="1"/>
<line x1="63.8" y1="391.95" x2="66.8" y2="391.95" stroke="#333333" stroke-width="1"/>
<line x1="63.8" y1="389.31" x2="66.8" y2="389.31" stroke="#333333" stroke-width="1"/>
<line x1="63.8" y1="387.07" x2="66.8" y2="387.07" stroke="#333333" stroke-width="1"/>
<line x1="63.8" y1="385.14" x2="66.8" y2="385.14" stroke="#333333" stroke-width="1"/>
<line x1="63.8" y1="383.43" x2="66.8" y2="383.43" stroke="#333333" stroke-width="1"/>
<line x1="61.3" y1="415.30" x2="66.8" y2="415.30" stroke="#333333" stroke-width="1.3"/>
<text x="56.00" y="419.00" font-size="10.8" text-anchor="end" fill="#1c1c1c" stroke="#1c1c1c" stroke-width="0.22">1</text>
<line x1="63.8" y1="438.65" x2="66.8" y2="438.65" stroke="#333333" stroke-width="1"/>
<line x1="63.8" y1="432.76" x2="66.8" y2="432.76" stroke="#333333" stroke-width="1"/>
<line x1="63.8" y1="428.59" x2="66.8" y2="428.59" stroke="#333333" stroke-width="1"/>
<line x1="63.8" y1="425.35" x2="66.8" y2="425.35" stroke="#333333" stroke-width="1"/>
<line x1="63.8" y1="422.71" x2="66.8" y2="422.71" stroke="#333333" stroke-width="1"/>
<line x1="63.8" y1="420.47" x2="66.8" y2="420.47" stroke="#333333" stroke-width="1"/>
<line x1="63.8" y1="418.54" x2="66.8" y2="418.54" stroke="#333333" stroke-width="1"/>
<line x1="63.8" y1="416.83" x2="66.8" y2="416.83" stroke="#333333" stroke-width="1"/>
<line x1="61.3" y1="448.70" x2="66.8" y2="448.70" stroke="#333333" stroke-width="1.3"/>
<text x="56.00" y="452.40" font-size="10.8" text-anchor="end" fill="#1c1c1c" stroke="#1c1c1c" stroke-width="0.22">0.1</text>
<line x1="63.8" y1="472.05" x2="66.8" y2="472.05" stroke="#333333" stroke-width="1"/>
<line x1="63.8" y1="466.16" x2="66.8" y2="466.16" stroke="#333333" stroke-width="1"/>
<line x1="63.8" y1="461.99" x2="66.8" y2="461.99" stroke="#333333" stroke-width="1"/>
<line x1="63.8" y1="458.75" x2="66.8" y2="458.75" stroke="#333333" stroke-width="1"/>
<line x1="63.8" y1="456.11" x2="66.8" y2="456.11" stroke="#333333" stroke-width="1"/>
<line x1="63.8" y1="453.87" x2="66.8" y2="453.87" stroke="#333333" stroke-width="1"/>
<line x1="63.8" y1="451.94" x2="66.8" y2="451.94" stroke="#333333" stroke-width="1"/>
<line x1="63.8" y1="450.23" x2="66.8" y2="450.23" stroke="#333333" stroke-width="1"/>
<line x1="61.3" y1="482.10" x2="66.8" y2="482.10" stroke="#333333" stroke-width="1.3"/>
<text x="56.00" y="485.80" font-size="10.8" text-anchor="end" fill="#1c1c1c" stroke="#1c1c1c" stroke-width="0.22">0.01</text>
<line x1="66.05" y1="482.09999999999997" x2="241.06" y2="482.09999999999997" stroke="#333333" stroke-width="1.5"/>
<line x1="70.00" y1="482.09999999999997" x2="70.00" y2="487.29999999999995" stroke="#333333" stroke-width="1.3"/>
<line x1="102.30" y1="482.09999999999997" x2="102.30" y2="487.29999999999995" stroke="#333333" stroke-width="1.3"/>
<line x1="134.60" y1="482.09999999999997" x2="134.60" y2="487.29999999999995" stroke="#333333" stroke-width="1.3"/>
<line x1="166.90" y1="482.09999999999997" x2="166.90" y2="487.29999999999995" stroke="#333333" stroke-width="1.3"/>
<line x1="202.30" y1="482.09999999999997" x2="202.30" y2="487.29999999999995" stroke="#333333" stroke-width="1.3"/>
<line x1="234.60" y1="482.09999999999997" x2="234.60" y2="487.29999999999995" stroke="#333333" stroke-width="1.3"/>
<line x1="76.46" y1="482.09999999999997" x2="76.46" y2="485.09999999999997" stroke="#333333" stroke-width="1"/>
<line x1="82.92" y1="482.09999999999997" x2="82.92" y2="485.09999999999997" stroke="#333333" stroke-width="1"/>
<line x1="89.38" y1="482.09999999999997" x2="89.38" y2="485.09999999999997" stroke="#333333" stroke-width="1"/>
<line x1="95.84" y1="482.09999999999997" x2="95.84" y2="485.09999999999997" stroke="#333333" stroke-width="1"/>
<line x1="108.76" y1="482.09999999999997" x2="108.76" y2="485.09999999999997" stroke="#333333" stroke-width="1"/>
<line x1="115.22" y1="482.09999999999997" x2="115.22" y2="485.09999999999997" stroke="#333333" stroke-width="1"/>
<line x1="121.68" y1="482.09999999999997" x2="121.68" y2="485.09999999999997" stroke="#333333" stroke-width="1"/>
<line x1="128.14" y1="482.09999999999997" x2="128.14" y2="485.09999999999997" stroke="#333333" stroke-width="1"/>
<line x1="141.06" y1="482.09999999999997" x2="141.06" y2="485.09999999999997" stroke="#333333" stroke-width="1"/>
<line x1="147.52" y1="482.09999999999997" x2="147.52" y2="485.09999999999997" stroke="#333333" stroke-width="1"/>
<line x1="153.98" y1="482.09999999999997" x2="153.98" y2="485.09999999999997" stroke="#333333" stroke-width="1"/>
<line x1="160.44" y1="482.09999999999997" x2="160.44" y2="485.09999999999997" stroke="#333333" stroke-width="1"/>
<line x1="173.36" y1="482.09999999999997" x2="173.36" y2="485.09999999999997" stroke="#333333" stroke-width="1"/>
<line x1="179.82" y1="482.09999999999997" x2="179.82" y2="485.09999999999997" stroke="#333333" stroke-width="1"/>
<line x1="186.28" y1="482.09999999999997" x2="186.28" y2="485.09999999999997" stroke="#333333" stroke-width="1"/>
<line x1="192.74" y1="482.09999999999997" x2="192.74" y2="485.09999999999997" stroke="#333333" stroke-width="1"/>
<line x1="208.76" y1="482.09999999999997" x2="208.76" y2="485.09999999999997" stroke="#333333" stroke-width="1"/>
<line x1="215.22" y1="482.09999999999997" x2="215.22" y2="485.09999999999997" stroke="#333333" stroke-width="1"/>
<line x1="221.68" y1="482.09999999999997" x2="221.68" y2="485.09999999999997" stroke="#333333" stroke-width="1"/>
<line x1="228.14" y1="482.09999999999997" x2="228.14" y2="485.09999999999997" stroke="#333333" stroke-width="1"/>
<line x1="241.06" y1="482.09999999999997" x2="241.06" y2="485.09999999999997" stroke="#333333" stroke-width="1"/>
<polygon points="198.5,486.59999999999997 201.5,477.59999999999997 204.0,477.59999999999997 201.0,486.59999999999997" fill="#fff"/><line x1="198.2" y1="486.9" x2="201.4" y2="477.29999999999995" stroke="#333333" stroke-width="1.1"/><line x1="200.7" y1="486.9" x2="203.9" y2="477.29999999999995" stroke="#333333" stroke-width="1.1"/>
<text x="70.00" y="500.20" font-size="10.8" text-anchor="middle" fill="#1c1c1c" stroke="#1c1c1c" stroke-width="0.22">0</text>
<text x="102.30" y="500.20" font-size="10.8" text-anchor="middle" fill="#1c1c1c" stroke="#1c1c1c" stroke-width="0.22">50</text>
<text x="134.60" y="500.20" font-size="10.8" text-anchor="middle" fill="#1c1c1c" stroke="#1c1c1c" stroke-width="0.22">100</text>
<text x="166.90" y="500.20" font-size="10.8" text-anchor="middle" fill="#1c1c1c" stroke="#1c1c1c" stroke-width="0.22">150</text>
<text x="202.30" y="500.20" font-size="10.8" text-anchor="middle" fill="#1c1c1c" stroke="#1c1c1c" stroke-width="0.22">300</text>
<text x="234.60" y="500.20" font-size="10.8" text-anchor="middle" fill="#1c1c1c" stroke="#1c1c1c" stroke-width="0.22">350</text>
<text x="47.10" y="517.60" font-size="14.1" text-anchor="start" fill="#1c1c1c" stroke="#1c1c1c" stroke-width="0.22">Patient #13941 monitoring in days</text>
<path d="M72.71,358.78 L116.49,389.12" fill="none" stroke="#0000ff" stroke-width="1.15" stroke-dasharray="3.7,2.7,1.4,2.4,1.4,3.0"/>
<path d="M121.64,393.22 L134.96,405.28" fill="none" stroke="#0000ff" stroke-width="1.15" stroke-dasharray="3.7,2.7,1.4,2.4,1.4,3.0"/>
<path d="M140.64,406.89 L170.86,401.21" fill="none" stroke="#0000ff" stroke-width="1.15" stroke-dasharray="3.7,2.7,1.4,2.4,1.4,3.0"/>
<rect x="67.00" y="353.90" width="6.00" height="6.00" fill="#0000ff"/>
<rect x="116.20" y="388.00" width="6.00" height="6.00" fill="#0000ff"/>
<rect x="134.40" y="404.50" width="6.00" height="6.00" fill="#0000ff"/>
<rect x="171.10" y="397.60" width="6.00" height="6.00" fill="#0000ff"/>
<path d="M72.75,361.32 L116.45,390.18" fill="none" stroke="#ff962e" stroke-width="1.05" stroke-dasharray="1.4,2.3"/>
<path d="M122.33,393.05 L134.27,397.05" fill="none" stroke="#ff962e" stroke-width="1.05" stroke-dasharray="1.4,2.3"/>
<path d="M140.69,397.80 L170.81,395.00" fill="none" stroke="#ff962e" stroke-width="1.05" stroke-dasharray="1.4,2.3"/>
<rect x="67.00" y="356.50" width="6.00" height="6.00" fill="#ff8000"/>
<rect x="116.20" y="389.00" width="6.00" height="6.00" fill="#ff8000"/>
<rect x="134.40" y="395.10" width="6.00" height="6.00" fill="#ff8000"/>
<rect x="171.10" y="391.70" width="6.00" height="6.00" fill="#ff8000"/>
<path d="M72.98,335.72 L116.82,356.58" fill="none" stroke="#0000ff" stroke-width="1.15" stroke-dasharray="3.7,2.7,1.4,2.4,1.4,3.0"/>
<path d="M120.99,354.92 L136.61,314.48" fill="none" stroke="#0000ff" stroke-width="1.15" stroke-dasharray="3.7,2.7,1.4,2.4,1.4,3.0"/>
<path d="M139.77,314.05 L172.03,357.35" fill="none" stroke="#0000ff" stroke-width="1.15" stroke-dasharray="3.7,2.7,1.4,2.4,1.4,3.0"/>
<polygon points="67.15,332.67 72.85,332.67 70.00,337.57" fill="#fff" stroke="#0000ff" stroke-width="1.75" stroke-linejoin="miter"/>
<polygon points="116.95,356.37 122.65,356.37 119.80,361.27" fill="#fff" stroke="#0000ff" stroke-width="1.75" stroke-linejoin="miter"/>
<polygon points="134.95,309.77 140.65,309.77 137.80,314.67" fill="#fff" stroke="#0000ff" stroke-width="1.75" stroke-linejoin="miter"/>
<polygon points="171.15,358.37 176.85,358.37 174.00,363.27" fill="#fff" stroke="#0000ff" stroke-width="1.75" stroke-linejoin="miter"/>
<path d="M73.28,333.93 L116.82,354.77" fill="none" stroke="#ff962e" stroke-width="1.05" stroke-dasharray="1.4,2.3"/>
<path d="M120.91,353.09 L136.69,309.11" fill="none" stroke="#ff962e" stroke-width="1.05" stroke-dasharray="1.4,2.3"/>
<path d="M139.72,308.69 L172.08,354.01" fill="none" stroke="#ff962e" stroke-width="1.05" stroke-dasharray="1.4,2.3"/>
<polygon points="70.30,329.40 73.40,332.50 70.30,335.60 67.20,332.50" fill="#fff" stroke="#ff8000" stroke-width="1.8" stroke-linejoin="miter"/>
<polygon points="119.80,353.10 122.90,356.20 119.80,359.30 116.70,356.20" fill="#fff" stroke="#ff8000" stroke-width="1.8" stroke-linejoin="miter"/>
<polygon points="137.80,302.90 140.90,306.00 137.80,309.10 134.70,306.00" fill="#fff" stroke="#ff8000" stroke-width="1.8" stroke-linejoin="miter"/>
<polygon points="174.00,353.60 177.10,356.70 174.00,359.80 170.90,356.70" fill="#fff" stroke="#ff8000" stroke-width="1.8" stroke-linejoin="miter"/>
<path d="M122.61,430.09 L134.89,434.41" fill="none" stroke="#0000ff" stroke-width="1.15" stroke-dasharray="3.7,2.7,1.4,2.4,1.4,3.0"/>
<path d="M141.29,435.72 L213.01,440.58" fill="none" stroke="#0000ff" stroke-width="1.15" stroke-dasharray="3.7,2.7,1.4,2.4,1.4,3.0"/>
<polygon points="124.70,429.00 116.90,425.00 116.90,433.00" fill="#0000ff"/>
<polygon points="143.20,435.50 135.40,431.50 135.40,439.50" fill="#0000ff"/>
<polygon points="221.50,440.80 213.70,436.80 213.70,444.80" fill="#0000ff"/>
<path d="M122.87,429.72 L134.23,431.18" fill="none" stroke="#ff962e" stroke-width="1.05" stroke-dasharray="1.4,2.3"/>
<path d="M140.80,431.51 L213.20,429.59" fill="none" stroke="#ff962e" stroke-width="1.05" stroke-dasharray="1.4,2.3"/>
<polygon points="114.93,429.30 121.93,425.30 121.93,433.30" fill="#ff8000"/>
<polygon points="132.83,431.60 139.83,427.60 139.83,435.60" fill="#ff8000"/>
<polygon points="211.83,429.50 218.83,425.50 218.83,433.50" fill="#ff8000"/>
<path d="M122.89,430.75 L134.41,429.85" fill="none" stroke="#ff0000" stroke-width="1.25" stroke-dasharray="4.6,5.1"/>
<path d="M141.00,429.58 L213.20,429.22" fill="none" stroke="#ff0000" stroke-width="1.25" stroke-dasharray="4.6,5.1"/>
<polygon points="119.60,426.80 120.78,429.38 123.59,429.70 121.50,431.62 122.07,434.40 119.60,433.00 117.13,434.40 117.70,431.62 115.61,429.70 118.42,429.38" fill="#ff0000"/>
<polygon points="137.70,425.40 138.88,427.98 141.69,428.30 139.60,430.22 140.17,433.00 137.70,431.60 135.23,433.00 135.80,430.22 133.71,428.30 136.52,427.98" fill="#ff0000"/>
<polygon points="216.50,425.00 217.68,427.58 220.49,427.90 218.40,429.82 218.97,432.60 216.50,431.20 214.03,432.60 214.60,429.82 212.51,427.90 215.32,427.58" fill="#ff0000"/>
<path d="M121.91,321.54 L135.69,338.06" fill="none" stroke="#0000ff" stroke-width="1.15" stroke-dasharray="3.7,2.7,1.4,2.4,1.4,3.0"/>
<path d="M141.08,340.93 L213.22,348.17" fill="none" stroke="#0000ff" stroke-width="1.15" stroke-dasharray="3.7,2.7,1.4,2.4,1.4,3.0"/>
<polygon points="119.80,316.25 122.90,318.39 121.71,321.86 117.89,321.86 116.70,318.39" fill="#fff" stroke="#0000ff" stroke-width="1.9" stroke-linejoin="miter"/>
<polygon points="137.80,337.85 140.90,339.99 139.71,343.46 135.89,343.46 134.70,339.99" fill="#fff" stroke="#0000ff" stroke-width="1.9" stroke-linejoin="miter"/>
<polygon points="216.50,345.75 219.60,347.89 218.41,351.36 214.59,351.36 213.40,347.89" fill="#fff" stroke="#0000ff" stroke-width="1.9" stroke-linejoin="miter"/>
<path d="M122.17,323.30 L135.43,336.20" fill="none" stroke="#ff962e" stroke-width="1.05" stroke-dasharray="1.4,2.3"/>
<path d="M141.07,338.98 L213.23,349.52" fill="none" stroke="#ff962e" stroke-width="1.05" stroke-dasharray="1.4,2.3"/>
<path d="M116.20,321.00H123.40M119.80,317.40V324.60" stroke="#ff8000" stroke-width="1.7" fill="none"/>
<path d="M134.20,338.50H141.40M137.80,334.90V342.10" stroke="#ff8000" stroke-width="1.7" fill="none"/>
<path d="M212.90,350.00H220.10M216.50,346.40V353.60" stroke="#ff8000" stroke-width="1.7" fill="none"/>
<path d="M121.72,326.51 L135.78,344.69" fill="none" stroke="#ff0000" stroke-width="1.25" stroke-dasharray="4.6,5.1"/>
<path d="M141.09,347.51 L213.21,351.99" fill="none" stroke="#ff0000" stroke-width="1.25" stroke-dasharray="4.6,5.1"/>
<path d="M115.85,323.90L123.55,323.90M119.70,320.05L119.70,327.75M115.97,320.17L123.43,327.63M115.97,327.63L123.43,320.17" stroke="#ff3c00" stroke-width="1.7" fill="none"/><circle cx="119.70" cy="323.90" r="1.90" fill="#ff3c00"/>
<path d="M133.95,347.30L141.65,347.30M137.80,343.45L137.80,351.15M134.07,343.57L141.53,351.03M134.07,351.03L141.53,343.57" stroke="#ff3c00" stroke-width="1.7" fill="none"/><circle cx="137.80" cy="347.30" r="1.90" fill="#ff3c00"/>
<path d="M212.65,352.20L220.35,352.20M216.50,348.35L216.50,356.05M212.77,348.47L220.23,355.93M212.77,355.93L220.23,348.47" stroke="#ff3c00" stroke-width="1.7" fill="none"/><circle cx="216.50" cy="352.20" r="1.90" fill="#ff3c00"/>
<rect x="248.6" y="322.8" width="119.6" height="123.0" fill="#fff" stroke="#505050" stroke-width="1.4"/>
<path d="M249.50,329.30 L255.70,329.30" fill="none" stroke="#0000ff" stroke-width="1.15" stroke-dasharray="3.7,2.7,1.4,2.4,1.4,3.0"/>
<path d="M262.30,329.30 L269.00,329.30" fill="none" stroke="#0000ff" stroke-width="1.15" stroke-dasharray="3.7,2.7,1.4,2.4,1.4,3.0"/>
<rect x="256.00" y="326.30" width="6.00" height="6.00" fill="#0000ff"/>
<text x="272.30" y="332.30" font-size="8.75" fill="#1c1c1c" stroke="#1c1c1c" stroke-width="0.15"><tspan font-style="italic">KRAS</tspan> G12D LNA</text>
<path d="M249.50,340.30 L255.70,340.30" fill="none" stroke="#ff962e" stroke-width="1.05" stroke-dasharray="1.4,2.3"/>
<path d="M262.30,340.30 L269.00,340.30" fill="none" stroke="#ff962e" stroke-width="1.05" stroke-dasharray="1.4,2.3"/>
<rect x="256.00" y="337.30" width="6.00" height="6.00" fill="#ff8000"/>
<text x="272.30" y="343.30" font-size="8.75" fill="#1c1c1c" stroke="#1c1c1c" stroke-width="0.15"><tspan font-style="italic">KRAS</tspan> G12D 2-plex MP</text>
<path d="M249.50,352.00 L255.90,352.00" fill="none" stroke="#0000ff" stroke-width="1.15" stroke-dasharray="3.7,2.7,1.4,2.4,1.4,3.0"/>
<path d="M262.50,352.00 L269.00,352.00" fill="none" stroke="#0000ff" stroke-width="1.15" stroke-dasharray="3.7,2.7,1.4,2.4,1.4,3.0"/>
<polygon points="256.35,350.37 262.05,350.37 259.20,355.27" fill="#fff" stroke="#0000ff" stroke-width="1.75" stroke-linejoin="miter"/>
<text x="272.30" y="355.00" font-size="8.75" fill="#1c1c1c" stroke="#1c1c1c" stroke-width="0.15"><tspan font-style="italic">KRAS</tspan> WT LNA</text>
<path d="M249.50,363.10 L255.90,363.10" fill="none" stroke="#ff962e" stroke-width="1.05" stroke-dasharray="1.4,2.3"/>
<path d="M262.50,363.10 L269.00,363.10" fill="none" stroke="#ff962e" stroke-width="1.05" stroke-dasharray="1.4,2.3"/>
<polygon points="259.20,360.00 262.30,363.10 259.20,366.20 256.10,363.10" fill="#fff" stroke="#ff8000" stroke-width="1.8" stroke-linejoin="miter"/>
<text x="272.30" y="366.10" font-size="8.75" fill="#1c1c1c" stroke="#1c1c1c" stroke-width="0.15"><tspan font-style="italic">KRAS</tspan> WT 2-plex MP</text>
<path d="M249.50,378.00 L256.50,378.00" fill="none" stroke="#0000ff" stroke-width="1.15" stroke-dasharray="3.7,2.7,1.4,2.4,1.4,3.0"/>
<path d="M263.10,378.00 L269.00,378.00" fill="none" stroke="#0000ff" stroke-width="1.15" stroke-dasharray="3.7,2.7,1.4,2.4,1.4,3.0"/>
<polygon points="265.00,378.00 257.20,374.00 257.20,382.00" fill="#0000ff"/>
<text x="270.50" y="381.00" font-size="8.75" fill="#1c1c1c" stroke="#1c1c1c" stroke-width="0.15"><tspan font-style="italic">BRAF</tspan> V600E LNA</text>
<path d="M249.50,389.10 L256.50,389.10" fill="none" stroke="#ff962e" stroke-width="1.05" stroke-dasharray="1.4,2.3"/>
<path d="M263.10,389.10 L269.00,389.10" fill="none" stroke="#ff962e" stroke-width="1.05" stroke-dasharray="1.4,2.3"/>
<polygon points="255.13,389.10 262.13,385.10 262.13,393.10" fill="#ff8000"/>
<text x="270.50" y="392.10" font-size="8.75" fill="#1c1c1c" stroke="#1c1c1c" stroke-width="0.15"><tspan font-style="italic">BRAF</tspan> V600E 2-plex MP</text>
<path d="M249.50,400.40 L256.50,400.40" fill="none" stroke="#ff0000" stroke-width="1.25" stroke-dasharray="4.6,5.1"/>
<path d="M263.10,400.40 L269.00,400.40" fill="none" stroke="#ff0000" stroke-width="1.25" stroke-dasharray="4.6,5.1"/>
<polygon points="259.80,396.20 260.98,398.78 263.79,399.10 261.70,401.02 262.27,403.80 259.80,402.40 257.33,403.80 257.90,401.02 255.81,399.10 258.62,398.78" fill="#ff0000"/>
<text x="270.50" y="403.40" font-size="8.75" fill="#1c1c1c" stroke="#1c1c1c" stroke-width="0.15"><tspan font-style="italic">BRAF</tspan> V600E 4-plex MP</text>
<path d="M249.50,411.70 L256.50,411.70" fill="none" stroke="#0000ff" stroke-width="1.15" stroke-dasharray="3.7,2.7,1.4,2.4,1.4,3.0"/>
<path d="M263.10,411.70 L269.00,411.70" fill="none" stroke="#0000ff" stroke-width="1.15" stroke-dasharray="3.7,2.7,1.4,2.4,1.4,3.0"/>
<polygon points="259.80,408.95 262.90,411.09 261.71,414.56 257.89,414.56 256.70,411.09" fill="#fff" stroke="#0000ff" stroke-width="1.9" stroke-linejoin="miter"/>
<text x="270.50" y="414.70" font-size="8.75" fill="#1c1c1c" stroke="#1c1c1c" stroke-width="0.15"><tspan font-style="italic">BRAF</tspan> WT LNA</text>
<path d="M249.50,423.00 L256.50,423.00" fill="none" stroke="#ff962e" stroke-width="1.05" stroke-dasharray="1.4,2.3"/>
<path d="M263.10,423.00 L269.00,423.00" fill="none" stroke="#ff962e" stroke-width="1.05" stroke-dasharray="1.4,2.3"/>
<path d="M256.20,423.00H263.40M259.80,419.40V426.60" stroke="#ff8000" stroke-width="1.7" fill="none"/>
<text x="270.50" y="426.00" font-size="8.75" fill="#1c1c1c" stroke="#1c1c1c" stroke-width="0.15"><tspan font-style="italic">BRAF</tspan> WT 2-plex MP</text>
<path d="M249.50,434.00 L256.50,434.00" fill="none" stroke="#ff3c00" stroke-width="1.25" stroke-dasharray="4.6,5.1"/>
<path d="M263.10,434.00 L269.00,434.00" fill="none" stroke="#ff3c00" stroke-width="1.25" stroke-dasharray="4.6,5.1"/>
<path d="M255.95,434.00L263.65,434.00M259.80,430.15L259.80,437.85M256.07,430.27L263.53,437.73M256.07,437.73L263.53,430.27" stroke="#ff3c00" stroke-width="1.7" fill="none"/><circle cx="259.80" cy="434.00" r="1.90" fill="#ff3c00"/>
<text x="270.50" y="437.00" font-size="8.75" fill="#1c1c1c" stroke="#1c1c1c" stroke-width="0.15"><tspan font-style="italic">BRAF</tspan> WT 4-plex MP</text>
</g>
</svg>
</body></html>
